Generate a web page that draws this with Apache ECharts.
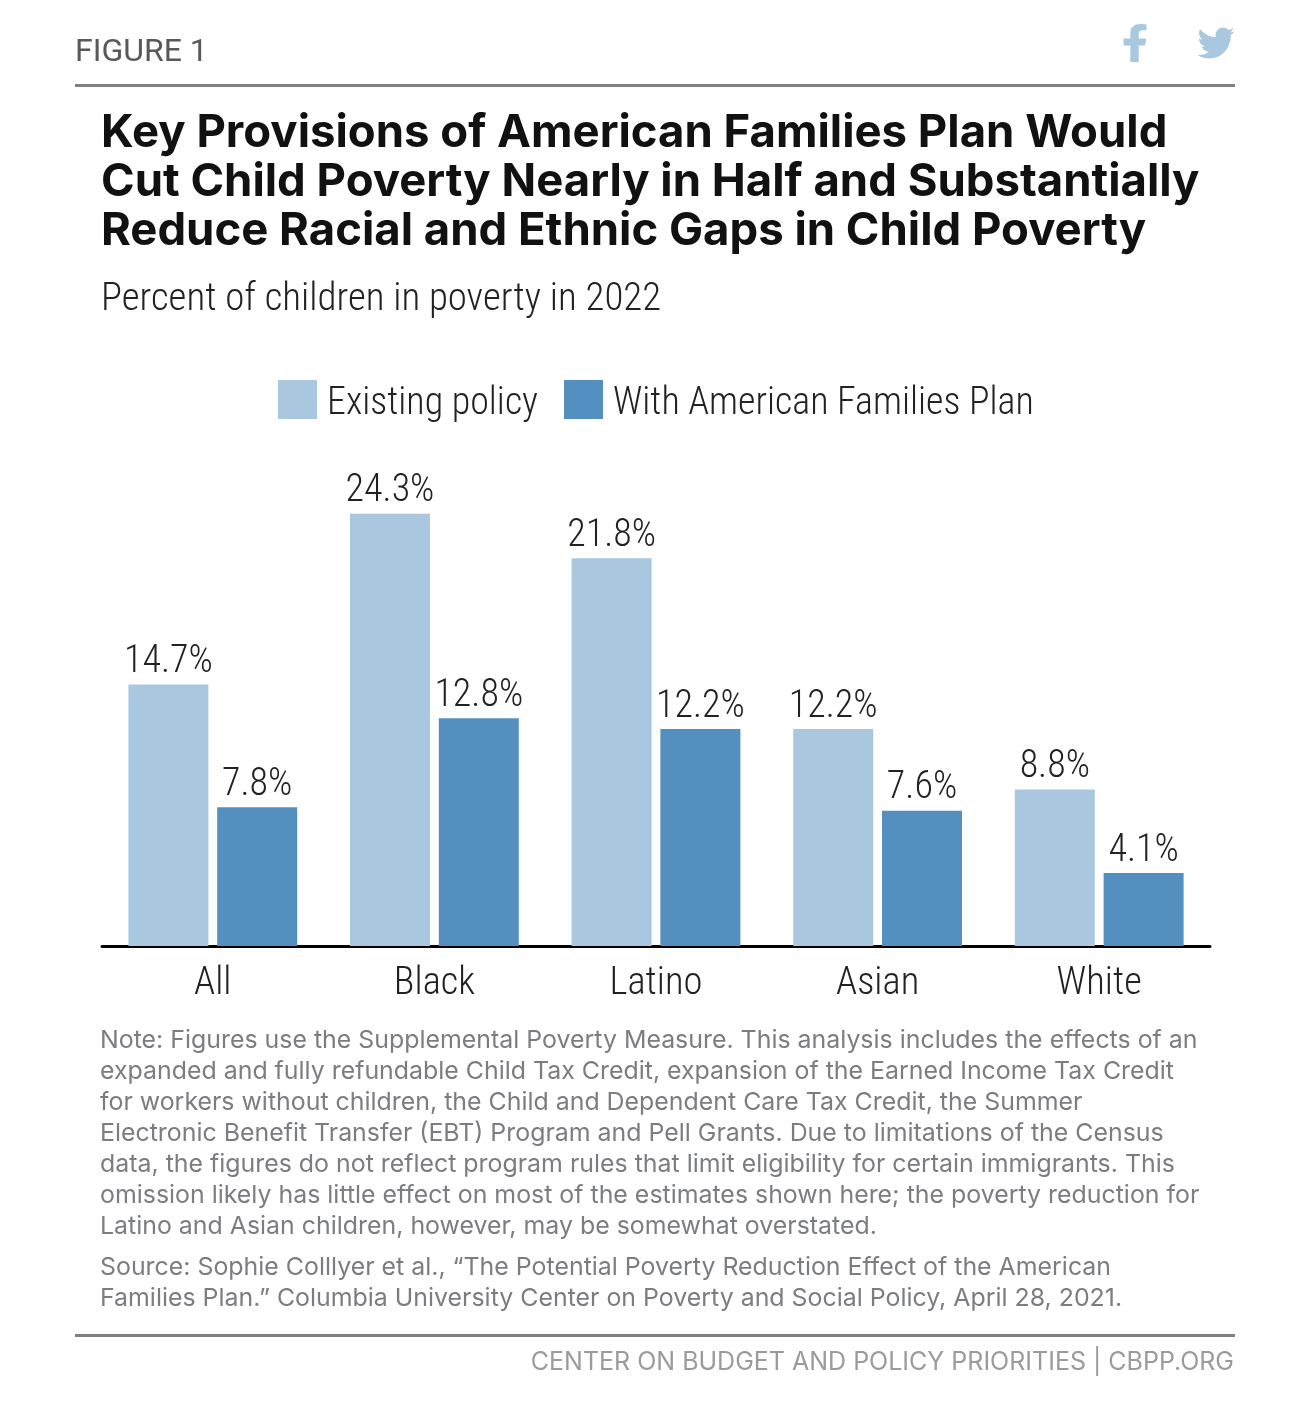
<!DOCTYPE html>
<html><head><meta charset="utf-8">
<script src="https://cdn.jsdelivr.net/npm/echarts@6/dist/echarts.min.js"></script>
<style>html,body{margin:0;padding:0;background:#fff}#c{width:1304px;height:1412px}</style>
</head><body><div id="c"></div>
<script>
const categories = ["All","Black","Latino","Asian","White"];
const existingPolicy = [14.7,24.3,21.8,12.2,8.8];
const withPlan = [7.8,12.8,12.2,7.6,4.1];
const seriesNames = ["Existing policy","With American Families Plan"];
const figureLabel = "FIGURE 1";
const titleLines = ["Key Provisions of American Families Plan Would","Cut Child Poverty Nearly in Half and Substantially","Reduce Racial and Ethnic Gaps in Child Poverty"];
const subtitle = "Percent of children in poverty in 2022";
const noteLines = ["Note: Figures use the Supplemental Poverty Measure. This analysis includes the effects of an","expanded and fully refundable Child Tax Credit, expansion of the Earned Income Tax Credit","for workers without children, the Child and Dependent Care Tax Credit, the Summer","Electronic Benefit Transfer (EBT) Program and Pell Grants. Due to limitations of the Census","data, the figures do not reflect program rules that limit eligibility for certain immigrants. This","omission likely has little effect on most of the estimates shown here; the poverty reduction for","Latino and Asian children, however, may be somewhat overstated."];
const sourceLines = ["Source: Sophie Colllyer et al., \u201cThe Potential Poverty Reduction Effect of the American","Families Plan.\u201d Columbia University Center on Poverty and Social Policy, April 28, 2021."];
const credit = "CENTER ON BUDGET AND POLICY PRIORITIES | CBPP.ORG";

const NARROW = '"Liberation Sans Narrow","Roboto Condensed","Liberation Sans",sans-serif';
const FB = "path://M279.14 288l14.22-92.66h-88.91v-60.13c0-25.35 12.42-50.06 52.24-50.06h40.42V6.26S260.43 0 225.36 0c-73.22 0-121.08 44.38-121.08 124.72v70.62H22.89V288h81.39v224h100.17V288z";
const TW = "path://M459.37 151.716c.325 4.548.325 9.097.325 13.645 0 138.72-105.583 298.558-298.558 298.558-59.452 0-114.68-17.219-161.137-47.106 8.447.974 16.568 1.299 25.34 1.299 49.055 0 94.213-16.568 130.274-44.832-46.132-.975-84.792-31.188-98.112-72.772 6.498.974 12.995 1.624 19.818 1.624 9.421 0 18.843-1.3 27.614-3.573-48.081-9.747-84.143-51.98-84.143-102.985v-1.299c13.969 7.797 30.214 12.67 47.431 13.319-28.264-18.843-46.781-51.005-46.781-87.391 0-19.492 5.197-37.36 14.294-52.954 51.655 63.675 129.3 105.258 216.365 109.807-1.624-7.797-2.599-15.918-2.599-24.04 0-57.828 46.782-104.934 104.934-104.934 30.213 0 57.502 12.67 76.67 33.137 23.715-4.548 46.456-13.32 66.599-25.34-7.798 24.366-24.366 44.833-46.132 57.827 21.117-2.273 41.584-8.122 60.426-16.243-14.292 20.791-32.161 39.308-52.628 54.253z";

function txt(text,x,y,font,fill,align){
  return {type:'text',silent:true,style:{text,x,y,font,fill,textAlign:align||'left',textVerticalAlign:'middle'}};
}
const g = [];
g.push(txt(figureLabel,75,53,'400 32px Roboto','#58595b'));
g.push({type:'rect',shape:{x:75,y:84,width:1160,height:3},style:{fill:'#808080'},silent:true});
g.push({type:'rect',shape:{x:75,y:1334,width:1160,height:3},style:{fill:'#808080'},silent:true});
titleLines.forEach((t,i)=>g.push(txt(t,101,133.5+i*49,'bold 45.5px Inter','#111111')));
g.push(txt(subtitle,101,300,'300 38.9px '+NARROW,'#222222'));
noteLines.forEach((t,i)=>g.push(txt(t,100,1041+i*31,'24.9px Inter','#7b7d80')));
sourceLines.forEach((t,i)=>g.push(txt(t,100,1268+i*31,'24.9px Inter','#7b7d80')));
g.push(txt(credit,1234,1362,'25px Inter','#9a9b9d','right'));

const lbl = {show:true,position:'top',distance:3,formatter:p=>p.value.toFixed(1)+'%',fontFamily:NARROW,fontWeight:300,fontSize:38,color:'#222222'};
const chart = echarts.init(document.getElementById('c'),null,{renderer:'canvas'});
chart.setOption({
  animation:false,
  backgroundColor:'#ffffff',
  legend:{left:278,top:380,padding:0,itemWidth:39,itemHeight:39,itemGap:26,icon:'rect',
    selectedMode:false,
    formatter:'{t|{name}}',
    textStyle:{color:'#222222',padding:[0,0,0,5],
      rich:{t:{fontFamily:NARROW,fontWeight:300,fontSize:38,color:'#222222',padding:[10,0,0,0]}}},
    data:seriesNames},
  grid:{left:102,top:448,width:1108,height:498},
  xAxis:{type:'category',data:categories,
    axisLine:{lineStyle:{color:'#000',width:3}},axisTick:{show:false},
    axisLabel:{fontFamily:NARROW,fontWeight:300,fontSize:38.5,color:'#222222',margin:19}},
  yAxis:{type:'value',min:0,max:28,show:false,splitLine:{show:false}},
  series:[
    {name:seriesNames[0],type:'bar',data:existingPolicy,barWidth:80,barGap:'11%',itemStyle:{color:'#a9c8e0'},label:lbl,
     markPoint:{silent:true,label:{show:false},itemStyle:{color:'#a9c8e0'},data:[
       {x:1135,y:43,symbol:FB,symbolSize:[23,38],symbolKeepAspect:false},
       {x:1216,y:43,symbol:TW,symbolSize:[37,31],symbolKeepAspect:false}]}},
    {name:seriesNames[1],type:'bar',data:withPlan,barWidth:80,barGap:'11%',itemStyle:{color:'#5490bf'},label:lbl}
  ],
  graphic:{elements:g}
});
</script></body></html>
